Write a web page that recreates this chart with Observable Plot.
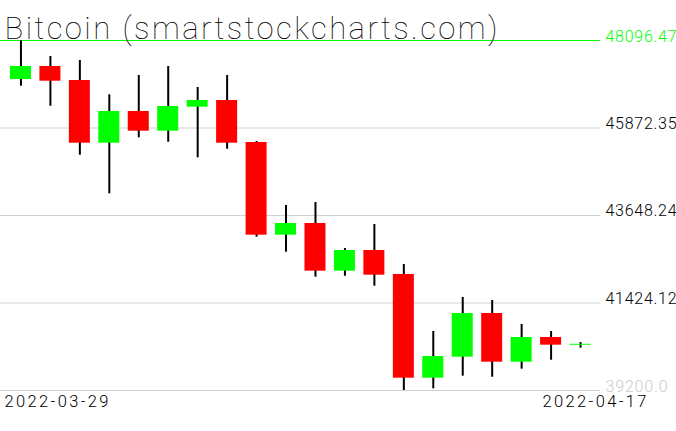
<!DOCTYPE html>
<html>
<head>
<meta charset="utf-8">
<script src="https://cdn.jsdelivr.net/npm/d3@7"></script>
<script src="https://cdn.jsdelivr.net/npm/@observablehq/plot@0.6"></script>
<style>
  html, body { margin: 0; padding: 0; background: #fff; }
  #chart svg { display: block; }
</style>
</head>
<body>
<div id="chart"></div>
<script>
const title = "Bitcoin (smartstockcharts.com)";
const dates = ["2022-03-29","2022-03-30","2022-03-31","2022-04-01","2022-04-02","2022-04-03","2022-04-04",
  "2022-04-05","2022-04-06","2022-04-07","2022-04-08","2022-04-09","2022-04-10","2022-04-11","2022-04-12",
  "2022-04-13","2022-04-14","2022-04-15","2022-04-16","2022-04-17"];
const open  = [47105,47436,47080,45486,46292,45791,46401,46571,45504,43148,43445,42233,42759,42149,39513,40047,41157,39919,40547,40350];
const close = [47436,47062,45486,46292,45791,46419,46571,45486,43148,43445,42233,42759,42131,39513,40064,41157,39919,40547,40352,40375];
const high  = [48096.47,47690,47588,46716,47207,47436,46902,47207,45530,43902,43979,42809,43419,42403,40700,41564,41488,40878,40700,40420];
const low   = [46935,46426,45181,44200,45623,45511,45115,45333,43097,42715,42080,42105,41851,39200,39243,39564,39538,39742,39970,40275];
const tickValues = [39200, 41424.12, 43648.24, 45872.35, 48096.47];
const tickLabels = ["39200.0", "41424.12", "43648.24", "45872.35", "48096.47"];
const tickColors = ["#cccccc", "#000000", "#000000", "#000000", "#00ff00"];
const firstLabel = "2022-03-29";
const lastLabel = "2022-04-17";

const candles = dates.map((d, i) => ({date: d, open: open[i], close: close[i], high: high[i], low: low[i]}));
const ticks = tickValues.map((v, i) => ({value: v, label: tickLabels[i], color: tickColors[i]}));

const plot = Plot.plot({
  width: 676,
  height: 431,
  marginTop: 40,
  marginBottom: 41,
  marginLeft: 0,
  marginRight: 76,
  style: {background: "#ffffff", overflow: "visible"},
  x: {type: "band", domain: dates, range: [1.5, 599], padding: 0.287, round: false, axis: null},
  y: {domain: [39200, 48096.47], axis: null},
  marks: [
    Plot.ruleY(ticks.filter(t => t.color !== "#00ff00"), {y: "value", stroke: "#d0d0d0", strokeWidth: 1}),
    Plot.ruleY(ticks.filter(t => t.color === "#00ff00"), {y: "value", stroke: "#00ff00", strokeWidth: 1.2}),
    Plot.ruleX(candles, {x: "date", y1: "low", y2: "high", stroke: "#000", strokeWidth: 2}),
    Plot.barY(candles, {x: "date", y1: "open", y2: "close", fill: d => d.close >= d.open ? "#00ff00" : "#ff0000"}),
    Plot.text(ticks, {y: "value", text: "label", frameAnchor: "right", textAnchor: "start", lineAnchor: "bottom",
      dx: 5, dy: 1, fill: d => d.color, fontFamily: "Roboto", fontWeight: 300, fontSize: 16}),
    Plot.text([title], {frameAnchor: "top-left", textAnchor: "start", lineAnchor: "bottom", dx: 4, dy: -2,
      fill: "#000", fontFamily: "Roboto", fontWeight: 100, fontSize: 31}),
    Plot.text([firstLabel], {frameAnchor: "bottom-left", textAnchor: "start", lineAnchor: "bottom", dx: 4, dy: 16,
      fill: "#000", fontFamily: "Roboto", fontWeight: 300, fontSize: 16.5}),
    Plot.text([lastLabel], {frameAnchor: "bottom-right", textAnchor: "start", lineAnchor: "bottom", dx: -58, dy: 16,
      fill: "#000", fontFamily: "Roboto", fontWeight: 300, fontSize: 16.5})
  ]
});
document.getElementById("chart").appendChild(plot);

// stretch the vector-style lettering to the reference widths
plot.querySelectorAll("text").forEach(t => {
  const s = t.textContent;
  if (s === title) { t.setAttribute("textLength", 493); t.setAttribute("lengthAdjust", "spacing"); }
  else if (s === firstLabel || s === lastLabel) { t.setAttribute("textLength", 104); t.setAttribute("lengthAdjust", "spacing"); }
  else if (s === "39200.0") { t.setAttribute("textLength", 62); t.setAttribute("lengthAdjust", "spacing"); }
  else if (tickLabels.includes(s)) { t.setAttribute("textLength", 71); t.setAttribute("lengthAdjust", "spacing"); }
});
</script>
</body>
</html>
